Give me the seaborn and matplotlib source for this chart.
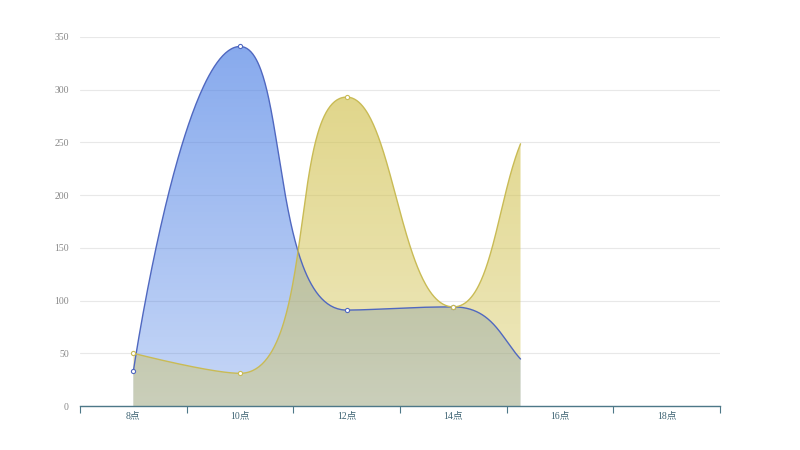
import numpy as np
import matplotlib
matplotlib.use("Agg")
import matplotlib.pyplot as plt
from matplotlib.patches import Polygon
import seaborn as sns

# -------------------------------
# Data
# -------------------------------
hours = ['8点', '10点', '12点', '14点', '16点', '18点']
blue_values = [33, 341, 91, 94, 28, 60]      # 16点/18点 are cut off in the picture
yellow_values = [50, 31, 293, 94, 286, 180]  # 16点/18点 are cut off in the picture
reveal = 3.63                                # curves only drawn up to here (category units)

blue_line = '#5068c0'
blue_fill = (0.31, 0.51, 0.90)
yellow_line = '#c9bb55'
yellow_fill = (0.82, 0.76, 0.31)
axis_color = '#4d7888'

sns.set_style("white")
plt.rcParams['font.family'] = ['Liberation Serif', 'Noto Sans CJK SC', 'DejaVu Sans']

fig, ax = plt.subplots(figsize=(8, 4.5), dpi=100)
fig.subplots_adjust(left=0.1, right=0.9, bottom=44 / 450, top=413 / 450)

ymax = 350
sx = 640 / len(hours)      # px per category
sy = 369 / ymax            # px per unit


# -------------------------------
# echarts-like smooth curve
# -------------------------------
def smooth_curve(values, smooth=0.5, n=120):
    pts = np.column_stack([np.arange(len(values)) * sx, np.array(values, float) * sy])
    m = len(pts)
    cp_in, cp_out = [None] * m, [None] * m
    cp_out[0] = pts[0]
    cp_in[m - 1] = pts[m - 1]
    for i in range(1, m - 1):
        p, prev, nxt = pts[i], pts[i - 1], pts[i + 1]
        v = nxt - prev
        lp = np.linalg.norm(p - prev)
        ln = np.linalg.norm(nxt - p)
        r = ln / (lp + ln)
        c2 = p + v * smooth * r
        c2 = np.minimum(c2, np.maximum(nxt, p))
        c2 = np.maximum(c2, np.minimum(nxt, p))
        c1 = p - (c2 - p) * lp / ln
        c1 = np.minimum(c1, np.maximum(prev, p))
        c1 = np.maximum(c1, np.minimum(prev, p))
        c2 = p + (p - c1) * ln / lp
        cp_in[i] = c1
        cp_out[i] = c2
    t = np.linspace(0, 1, n)[:, None]
    segs = []
    for i in range(m - 1):
        p0, p1, p2, p3 = pts[i], cp_out[i], cp_in[i + 1], pts[i + 1]
        b = (1 - t) ** 3 * p0 + 3 * (1 - t) ** 2 * t * p1 + 3 * (1 - t) * t ** 2 * p2 + t ** 3 * p3
        segs.append(b if i == 0 else b[1:])
    c = np.vstack(segs)
    x, y = c[:, 0] / sx, c[:, 1] / sy
    keep = x <= reveal
    return np.append(x[keep], reveal), np.append(y[keep], np.interp(reveal, x, y))


def gradient_area(x, y, rgb, a_bot, a_top, top, zorder):
    poly = Polygon(np.column_stack([np.r_[x, x[-1], x[0]], np.r_[y, 0, 0]]),
                   closed=True, facecolor='none', edgecolor='none')
    ax.add_patch(poly)
    g = np.linspace(0, 1, 256)[:, None]
    img = np.zeros((256, 1, 4))
    img[..., :3] = rgb
    img[..., 3] = a_bot + (a_top - a_bot) * g
    im = ax.imshow(img, extent=[x[0], x[-1], 0, top], origin='lower',
                   aspect='auto', zorder=zorder, interpolation='bilinear')
    im.set_clip_path(poly)


bx, by = smooth_curve(blue_values)
yx, yy = smooth_curve(yellow_values)

gradient_area(bx, by, blue_fill, 0.32, 0.68, by.max(), 1)
gradient_area(yx, yy, yellow_fill, 0.36, 0.66, yy.max(), 2)

sns.lineplot(x=bx, y=by, sort=False, estimator=None, color=blue_line, lw=1.0, ax=ax, zorder=3)
sns.lineplot(x=yx, y=yy, sort=False, estimator=None, color=yellow_line, lw=1.0, ax=ax, zorder=3)

shown = [i for i in range(len(hours)) if i <= reveal]
sns.scatterplot(x=shown, y=[blue_values[i] for i in shown], ax=ax, s=9,
                facecolor='white', edgecolor=blue_line, linewidth=0.8, zorder=4)
sns.scatterplot(x=shown, y=[yellow_values[i] for i in shown], ax=ax, s=9,
                facecolor='white', edgecolor=yellow_line, linewidth=0.8, zorder=4)

# -------------------------------
# Axes styling
# -------------------------------
ax.set_xlim(-0.5, len(hours) - 0.5)
ax.set_ylim(0, ymax)

ax.set_xticks(np.arange(-0.5, len(hours), 1))
ax.set_xticklabels([])
ax.set_xticks(np.arange(len(hours)), minor=True)
ax.set_xticklabels(hours, minor=True)
ax.tick_params(axis='x', which='major', bottom=True, length=5, width=0.8,
               color=axis_color, direction='out')
ax.tick_params(axis='x', which='minor', bottom=True, length=0, pad=4,
               labelsize=7, labelcolor='#3d6373')

ax.set_yticks(range(0, ymax + 1, 50))
ax.tick_params(axis='y', length=0, pad=8, labelsize=7, labelcolor='#888888')
ax.grid(axis='y', color='#e8e8e8', lw=0.8, zorder=0)
ax.set_axisbelow(True)

for s in ['left', 'top', 'right']:
    ax.spines[s].set_visible(False)
ax.spines['bottom'].set_color(axis_color)
ax.spines['bottom'].set_linewidth(1.0)
ax.spines['bottom'].set_zorder(5)

ax.set_xlabel('')
ax.set_ylabel('')

plt.savefig('out.png', dpi=100)
plt.close()
